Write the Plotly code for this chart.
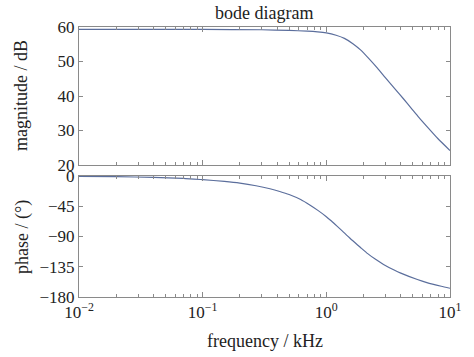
import plotly.graph_objects as go
from plotly.subplots import make_subplots

# ---- data ----
mag_freq_khz = [0.01, 0.03, 0.1, 0.3, 0.5, 0.7, 0.85, 1.0, 1.2, 1.4, 1.65, 1.9, 2.2, 2.6,
                3.0, 3.6, 4.2, 4.85, 5.6, 6.6, 8.0, 10.0]
mag_db = [59.3, 59.3, 59.3, 59.2, 59.0, 58.8, 58.6, 58.3, 57.6, 56.7, 55.1, 53.3, 50.9, 48.0,
          45.3, 42.0, 39.2, 36.5, 33.8, 30.9, 27.6, 24.2]

phase_freq_khz = [0.01, 0.02, 0.04, 0.07, 0.1, 0.15, 0.2, 0.27, 0.35, 0.42, 0.5, 0.62,
                  0.74, 0.86, 1.0, 1.1, 1.22, 1.35, 1.53, 1.7, 1.88, 2.16, 2.5, 2.9,
                  3.5, 4.0, 5.45, 6.5, 8.5, 10.0]
phase_deg = [-0.5, -1, -2, -3.5, -5.5, -8, -10.5, -14.5, -19, -23, -27.5, -35,
             -43.5, -51.5, -60.5, -67, -74.5, -82, -91.5, -99, -106, -115.5, -124, -131.5,
             -139.5, -144.5, -154, -158.5, -164, -167]

x_tickvals = [0.01, 0.1, 1, 10]
x_ticktext = ["10<sup>\u22122</sup>", "10<sup>\u22121</sup>", "10<sup>0</sup>", "10<sup>1</sup>"]
mag_ticks = [20, 30, 40, 50, 60]
phase_ticks = [0, -45, -90, -135, -180]
phase_ticktext = ["0", "\u221245", "\u221290", "\u2212135", "\u2212180"]

title_text = "bode diagram"
x_title = "frequency / kHz"
mag_title = "magnitude / dB"
phase_title = "phase / (\u00b0)"

# ---- figure ----
W, H = 474, 357
ML, MR, MT, MB = 79, 24, 27, 60
FONT = "Liberation Serif, Times New Roman, serif"
LINE_COLOR = "#5b6e9c"
AX_COLOR = "#8a8a8a"
TXT = "#222222"

fig = make_subplots(rows=2, cols=1, shared_xaxes=False, vertical_spacing=0.04)

fig.add_trace(go.Scatter(x=mag_freq_khz, y=mag_db, mode="lines",
                         line=dict(color=LINE_COLOR, width=1.2, shape="spline", smoothing=0.5),
                         showlegend=False), row=1, col=1)
fig.add_trace(go.Scatter(x=phase_freq_khz, y=phase_deg, mode="lines",
                         line=dict(color=LINE_COLOR, width=1.2, shape="spline", smoothing=0.5),
                         showlegend=False), row=2, col=1)

minor_vals = [m * 10 ** e for e in range(-2, 1) for m in range(2, 10)]

plot_h = H - MT - MB
top_dom = [(297 - 165) / plot_h, 1.0]
bot_dom = [0.0, 121 / plot_h]

common_x = dict(type="log", range=[-2, 1], showline=True, linecolor=AX_COLOR, linewidth=1,
                mirror="ticks", ticks="inside", ticklen=5, tickcolor=AX_COLOR, showgrid=False,
                zeroline=False, tickvals=x_tickvals,
                minor=dict(tickmode="array", tickvals=minor_vals, ticks="inside", ticklen=3,
                           tickcolor=AX_COLOR, showgrid=False),
                tickfont=dict(family=FONT, size=17, color=TXT))

fig.update_xaxes(**common_x, showticklabels=False, row=1, col=1)
fig.update_xaxes(**common_x, ticktext=x_ticktext, showticklabels=True, row=2, col=1)

common_y = dict(showline=True, linecolor=AX_COLOR, linewidth=1, mirror="ticks",
                ticks="inside", ticklen=4, tickcolor=AX_COLOR, showgrid=False, zeroline=False,
                tickfont=dict(family=FONT, size=17, color=TXT))
fig.update_yaxes(**common_y, range=[20, 60], tickvals=mag_ticks, domain=top_dom, row=1, col=1)
fig.update_yaxes(**common_y, range=[-180, 0], tickvals=phase_ticks, ticktext=phase_ticktext,
                 domain=bot_dom, row=2, col=1)

pw = W - ML - MR
def px_x(p):
    return (p - ML) / pw
def px_y(p):
    return (H - MB - p) / plot_h

annotations = [
    dict(text=title_text, x=px_x(264), y=px_y(13), xref="paper", yref="paper",
         showarrow=False, font=dict(family=FONT, size=18, color=TXT), xanchor="center", yanchor="middle"),
    dict(text=x_title, x=px_x(265), y=px_y(341), xref="paper", yref="paper",
         showarrow=False, font=dict(family=FONT, size=18, color=TXT), xanchor="center", yanchor="middle"),
    dict(text=mag_title, x=px_x(21), y=px_y(96), xref="paper", yref="paper", textangle=-90,
         showarrow=False, font=dict(family=FONT, size=18, color=TXT), xanchor="center", yanchor="middle"),
    dict(text=phase_title, x=px_x(22), y=px_y(237), xref="paper", yref="paper", textangle=-90,
         showarrow=False, font=dict(family=FONT, size=18, color=TXT), xanchor="center", yanchor="middle"),
]

fig.update_layout(width=W, height=H, margin=dict(l=ML, r=MR, t=MT, b=MB),
                  paper_bgcolor="white", plot_bgcolor="white",
                  annotations=annotations, showlegend=False)

fig.write_html("out.html", config={"displayModeBar": False},
               post_script="document.body.style.margin='0px';document.body.style.padding='0px';")
